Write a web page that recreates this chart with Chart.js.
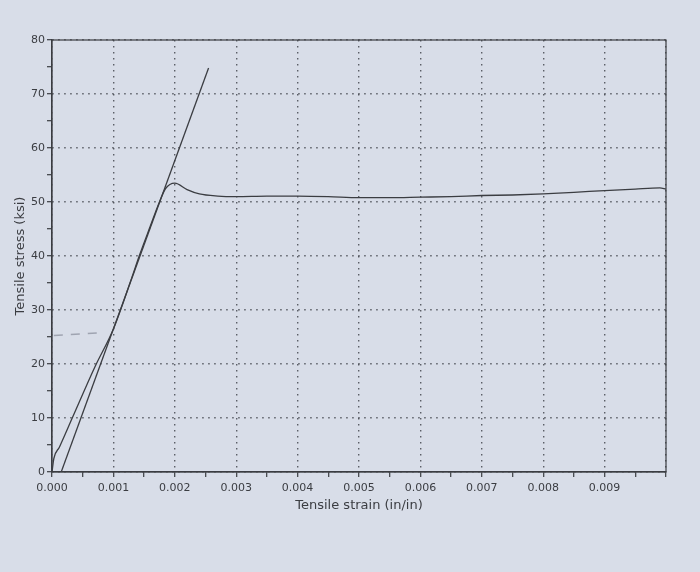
<!DOCTYPE html>
<html>
<head>
<meta charset="utf-8">
<script src="https://cdn.jsdelivr.net/npm/chart.js@4"></script>
<style>
  html, body { margin: 0; padding: 0; background: #d8dde8; }
  #wrap { width: 700px; height: 572px; }
</style>
</head>
<body>
<div id="wrap"><canvas id="graficaTension"></canvas></div>
<script>
// measured stress-strain curve
var strain = [0, 0.00003, 0.00012, 0.00033, 0.0007, 0.001, 0.0013, 0.00142, 0.0016, 0.00175,
              0.00185, 0.002, 0.0022, 0.0024, 0.0027, 0.003, 0.0035, 0.004, 0.0045, 0.005,
              0.0055, 0.006, 0.0065, 0.007, 0.0075, 0.008, 0.0085, 0.009, 0.0095, 0.0099, 0.01];
var stress = [0, 2.5, 4.6, 10, 19.5, 26.5, 36, 40, 45.5, 50,
              52.5, 53.5, 52.3, 51.5, 51.1, 51, 51.1, 51.1, 51, 50.8,
              50.8, 50.9, 51, 51.2, 51.3, 51.5, 51.8, 52.1, 52.4, 52.6, 52.4];

// elastic (offset) line
var lineStrain = [0.00015, 0.00255];
var lineStress = [0, 74.8];

// pencil mark on the sheet
var markStrain = [0.00003, 0.00085];
var markStress = [25.3, 25.8];

var xTicks = ['0.000', '0.001', '0.002', '0.003', '0.004', '0.005', '0.006', '0.007', '0.008', '0.009'];
var yTicks = [0, 10, 20, 30, 40, 50, 60, 70, 80];

function pares(xs, ys) {
    return xs.map(function(x, i) { return {x: x, y: ys[i]}; });
}

function esMayorX(v) {
    return Math.round(v * 10000) % 10 === 0;
}

var tinta = '#3b3d42';

var marco = {
    id: 'marco',
    afterDraw: function(chart) {
        var a = chart.chartArea;
        var ctx = chart.ctx;
        ctx.save();
        ctx.strokeStyle = tinta;
        ctx.lineWidth = 1.2;
        ctx.strokeRect(a.left, a.top, a.right - a.left, a.bottom - a.top);
        ctx.restore();
    }
};

document.addEventListener("DOMContentLoaded", function() {
    var ctx = document.getElementById("graficaTension").getContext("2d");
    new Chart(ctx, {
        type: "scatter",
        data: {
            datasets: [{
                label: 'Curva',
                data: pares(strain, stress),
                showLine: true,
                borderColor: tinta,
                borderWidth: 1.3,
                pointRadius: 0,
                cubicInterpolationMode: 'monotone'
            }, {
                label: 'Modulo',
                data: pares(lineStrain, lineStress),
                showLine: true,
                borderColor: tinta,
                borderWidth: 1.3,
                pointRadius: 0
            }, {
                label: 'Marca',
                data: pares(markStrain, markStress),
                showLine: true,
                borderColor: 'rgba(90, 95, 110, 0.45)',
                borderWidth: 1.5,
                borderDash: [9, 8],
                pointRadius: 0
            }]
        },
        options: {
            responsive: true,
            maintainAspectRatio: false,
            animation: false,
            layout: {
                padding: {left: 0, top: 40, right: 34, bottom: 0}
            },
            plugins: {
                legend: { display: false },
                tooltip: { enabled: false }
            },
            scales: {
                x: {
                    type: 'linear',
                    position: 'bottom',
                    min: 0,
                    max: 0.01,
                    afterFit: function(scale) { scale.height = 100; },
                    ticks: {
                        stepSize: 0.0005,
                        autoSkip: false,
                        maxRotation: 0,
                        padding: 5,
                        color: tinta,
                        font: { family: 'DejaVu Sans', size: 11 },
                        callback: function(v) {
                            if (!esMayorX(v)) return '';
                            var i = Math.round(v * 1000);
                            return i < xTicks.length ? xTicks[i] : '';
                        }
                    },
                    grid: {
                        color: function(c) {
                            return c.tick && esMayorX(c.tick.value) ? 'rgba(60, 62, 70, 0.8)' : 'rgba(0,0,0,0)';
                        },
                        lineWidth: 1.4,
                        tickColor: tinta,
                        tickLength: 5,
                        tickWidth: 1.2
                    },
                    border: { color: tinta, width: 1.2, dash: [1.5, 4.5] },
                    title: {
                        display: true,
                        text: 'Tensile strain (in/in)',
                        color: tinta,
                        font: { family: 'DejaVu Sans', size: 13 },
                        padding: { top: 0, bottom: 59 }
                    }
                },
                y: {
                    min: 0,
                    max: 80,
                    afterFit: function(scale) { scale.width = 52; },
                    ticks: {
                        stepSize: 5,
                        autoSkip: false,
                        padding: 2,
                        color: tinta,
                        font: { family: 'DejaVu Sans', size: 11 },
                        callback: function(v) {
                            return yTicks.indexOf(v) >= 0 ? String(v) : '';
                        }
                    },
                    grid: {
                        color: function(c) {
                            return c.tick && c.tick.value % 10 === 0 ? 'rgba(60, 62, 70, 0.8)' : 'rgba(0,0,0,0)';
                        },
                        lineWidth: 1.4,
                        tickColor: tinta,
                        tickLength: 5,
                        tickWidth: 1.2
                    },
                    border: { color: tinta, width: 1.2, dash: [1.5, 4.5] },
                    title: {
                        display: true,
                        text: 'Tensile stress (ksi)',
                        color: tinta,
                        font: { family: 'DejaVu Sans', size: 13 },
                        padding: { top: 13, bottom: 0 }
                    }
                }
            }
        },
        plugins: [marco]
    });
});
</script>
</body>
</html>
